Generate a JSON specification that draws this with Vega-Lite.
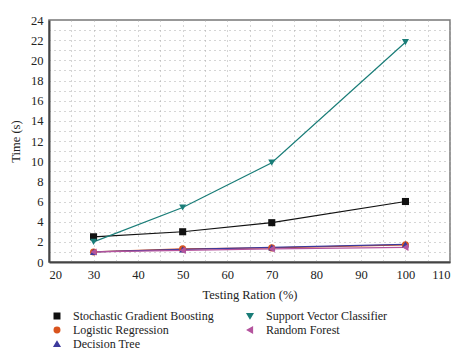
{
  "$schema": "https://vega.github.io/schema/vega-lite/v6.json",
  "width": 401,
  "height": 242,
  "autosize": {"type": "none"},
  "padding": {"left": 49, "top": 20, "right": 24, "bottom": 102},
  "background": "white",
  "config": {
    "font": "Liberation Serif",
    "view": {"stroke": "#777", "strokeWidth": 1.5},
    "axis": {"labelFont": "Liberation Serif", "titleFont": "Liberation Serif", "labelFontSize": 12.5, "titleFontSize": 12.5, "titleFontWeight": "normal", "labelColor": "#222", "titleColor": "#222"},
    "legend": {"orient": "none", "legendX": 2, "legendY": 290, "columns": 2, "title": null, "labelFont": "Liberation Serif", "labelFontSize": 12, "labelColor": "#222", "symbolSize": 30, "rowPadding": 2, "columnPadding": 30, "labelOffset": 10, "labelLimit": 300}
  },
  "data": {
    "values": [
      {"ratio": 30, "time": 2.5, "model": "Stochastic Gradient Boosting"},
      {"ratio": 50, "time": 3.0, "model": "Stochastic Gradient Boosting"},
      {"ratio": 70, "time": 3.9, "model": "Stochastic Gradient Boosting"},
      {"ratio": 100, "time": 6.0, "model": "Stochastic Gradient Boosting"},
      {"ratio": 30, "time": 2.0, "model": "Support Vector Classifier"},
      {"ratio": 50, "time": 5.4, "model": "Support Vector Classifier"},
      {"ratio": 70, "time": 9.85, "model": "Support Vector Classifier"},
      {"ratio": 100, "time": 21.8, "model": "Support Vector Classifier"},
      {"ratio": 30, "time": 1.0, "model": "Logistic Regression"},
      {"ratio": 50, "time": 1.3, "model": "Logistic Regression"},
      {"ratio": 70, "time": 1.4, "model": "Logistic Regression"},
      {"ratio": 100, "time": 1.7, "model": "Logistic Regression"},
      {"ratio": 30, "time": 1.0, "model": "Decision Tree"},
      {"ratio": 50, "time": 1.25, "model": "Decision Tree"},
      {"ratio": 70, "time": 1.45, "model": "Decision Tree"},
      {"ratio": 100, "time": 1.75, "model": "Decision Tree"},
      {"ratio": 30, "time": 1.0, "model": "Random Forest"},
      {"ratio": 50, "time": 1.15, "model": "Random Forest"},
      {"ratio": 70, "time": 1.3, "model": "Random Forest"},
      {"ratio": 100, "time": 1.45, "model": "Random Forest"}
    ]
  },
  "resolve": {"axis": {"x": "independent", "y": "independent"}},
  "layer": [
    {
      "mark": {"type": "line", "strokeWidth": 1.2},
      "encoding": {
        "x": {"field": "ratio", "type": "quantitative", "scale": {"domain": [20, 110], "nice": false},
              "axis": {"orient": "bottom", "values": [20,25,30,35,40,45,50,55,60,65,70,75,80,85,90,95,100,105,110], "labels": false, "ticks": false, "domain": false, "title": null, "grid": true, "gridDash": [1, 4], "gridColor": "#aaa", "gridWidth": 1}},
        "y": {"field": "time", "type": "quantitative", "scale": {"domain": [0, 24], "nice": false},
              "axis": {"orient": "left", "values": [1,2,3,4,5,6,7,8,9,10,11,12,13,14,15,16,17,18,19,20,21,22,23], "labels": false, "ticks": false, "domain": false, "title": null, "grid": true, "gridDash": [1, 4], "gridColor": "#aaa", "gridWidth": 1}},
        "color": {"field": "model", "type": "nominal",
                  "scale": {"domain": ["Stochastic Gradient Boosting", "Logistic Regression", "Decision Tree", "Support Vector Classifier", "Random Forest"],
                            "range": ["#111111", "#d9541e", "#3c3a9c", "#1a7d78", "#b4549e"]}},
        "order": {"field": "ratio", "type": "quantitative"}
      }
    },
    {
      "mark": {"type": "point", "filled": true, "opacity": 1, "size": 50},
      "encoding": {
        "x": {"field": "ratio", "type": "quantitative",
              "axis": {"orient": "bottom", "values": [20,30,40,50,60,70,80,90,100,110], "grid": false, "ticks": false, "domain": true, "domainColor": "#444", "domainWidth": 2, "labelPadding": 6, "title": "Testing Ration (%)", "titlePadding": 8}},
        "y": {"field": "time", "type": "quantitative",
              "axis": {"orient": "left", "values": [0,2,4,6,8,10,12,14,16,18,20,22,24], "grid": false, "ticks": false, "domain": true, "domainColor": "#444", "domainWidth": 2, "labelPadding": 6, "title": "Time (s)", "titlePadding": 8}},
        "color": {"field": "model", "type": "nominal"},
        "shape": {"field": "model", "type": "nominal",
                  "scale": {"domain": ["Stochastic Gradient Boosting", "Logistic Regression", "Decision Tree", "Support Vector Classifier", "Random Forest"],
                            "range": ["square", "circle", "triangle-up", "triangle-down", "triangle-left"]}}
      }
    }
  ]
}
